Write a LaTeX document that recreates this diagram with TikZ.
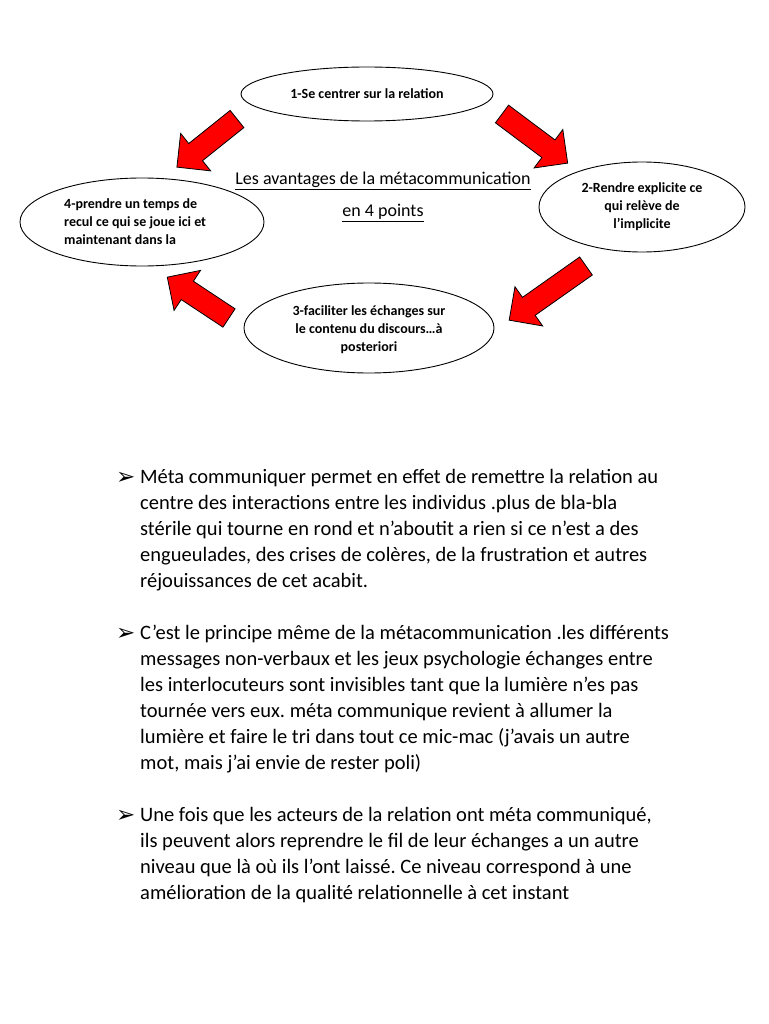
\documentclass[tikz,border=0pt]{standalone}
\usepackage{fontspec}
\setmainfont{Carlito}
\newfontfamily\dejavu{DejaVu Sans}
\frenchspacing
\begin{document}
\begin{tikzpicture}[x=1pt,y=1pt,
  redarr/.style={fill=red,draw=black,line width=0.8pt,line join=miter},
  dtext/.style={font=\fontsize{14}{18}\selectfont\bfseries,inner sep=0pt},
  ttext/.style={font=\fontsize{18}{18}\selectfont,inner sep=0pt},
  body/.style={font=\fontsize{20.5}{26}\selectfont,inner sep=0pt,anchor=base west,align=left},
  bul/.style={font=\dejavu\fontsize{23}{23}\selectfont,inner sep=0pt,anchor=base west}]
\useasboundingbox (0,0) rectangle (768,-1024);
\fill[white] (0,0) rectangle (768,-1024);
% ellipses
\draw[line width=0.9pt] (367,-94) ellipse [x radius=126,y radius=27];
\draw[line width=0.9pt] (142,-222) ellipse [x radius=122,y radius=44];
\draw[line width=0.9pt] (642,-207) ellipse [x radius=103,y radius=45];
\draw[line width=0.9pt] (369,-328) ellipse [x radius=125,y radius=45];
\node[dtext] (e1) at (367,-94) {1-Se centrer sur la relation};
\node[dtext,align=left,anchor=west] (e4) at (64,-222) {4-prendre un temps de\\recul ce qui se joue ici et\\maintenant dans la};
\node[dtext,align=center] (e2) at (642,-207) {2-Rendre explicite ce\\qui relève de\\l’implicite};
\node[dtext,align=center] (e3) at (369,-330) {3-faciliter les échanges sur\\le contenu du discours…à\\posteriori};
% title
\node[ttext] (t1) at (383,-181) {\underline{Les avantages de la métacommunication}};
\node[ttext] (t2) at (383,-213) {\underline{en 4 points}};
% block arrows
\draw[redarr,shift={(237,-119)},rotate=218.7] (0,-11) -- (53,-11) -- (53,-24) -- (77,0) -- (53,24) -- (53,11) -- (0,11) -- cycle;
\draw[redarr,shift={(502,-114)},rotate=-36.8] (0,-11) -- (58,-11) -- (58,-24) -- (82,0) -- (58,24) -- (58,11) -- (0,11) -- cycle;
\draw[redarr,shift={(586,-266)},rotate=215.2] (0,-11) -- (70,-11) -- (70,-24) -- (94,0) -- (70,24) -- (70,11) -- (0,11) -- cycle;
\draw[redarr,shift={(229,-318)},rotate=146.5] (0,-11) -- (50,-11) -- (50,-24) -- (74,0) -- (50,24) -- (50,11) -- (0,11) -- cycle;
% body text (base anchor = baseline of last line)
\node[bul] (b1) at (116,-484) {➢};
\node[body] (p1) at (140,-587) {Méta communiquer permet en effet de remettre la relation au\\centre des interactions entre les individus .plus de bla-bla\\stérile qui tourne en rond et n’aboutit a rien si ce n’est a des\\engueulades, des crises de colères, de la frustration et autres\\réjouissances de cet acabit.};
\node[bul] (b2) at (116,-640) {➢};
\node[body] (p2) at (140,-769) {C’est le principe même de la métacommunication .les différents\\messages non-verbaux et les jeux psychologie échanges entre\\les interlocuteurs sont invisibles tant que la lumière n’es pas\\tournée vers eux. méta communique revient à allumer la\\lumière et faire le tri dans tout ce mic-mac (j’avais un autre\\mot, mais j’ai envie de rester poli)};
\node[bul] (b3) at (116,-822) {➢};
\node[body] (p3) at (140,-899) {Une fois que les acteurs de la relation ont méta communiqué,\\ils peuvent alors reprendre le fil de leur échanges a un autre\\niveau que là où ils l’ont laissé. Ce niveau correspond à une\\amélioration de la qualité relationnelle à cet instant};
\end{tikzpicture}
\end{document}
